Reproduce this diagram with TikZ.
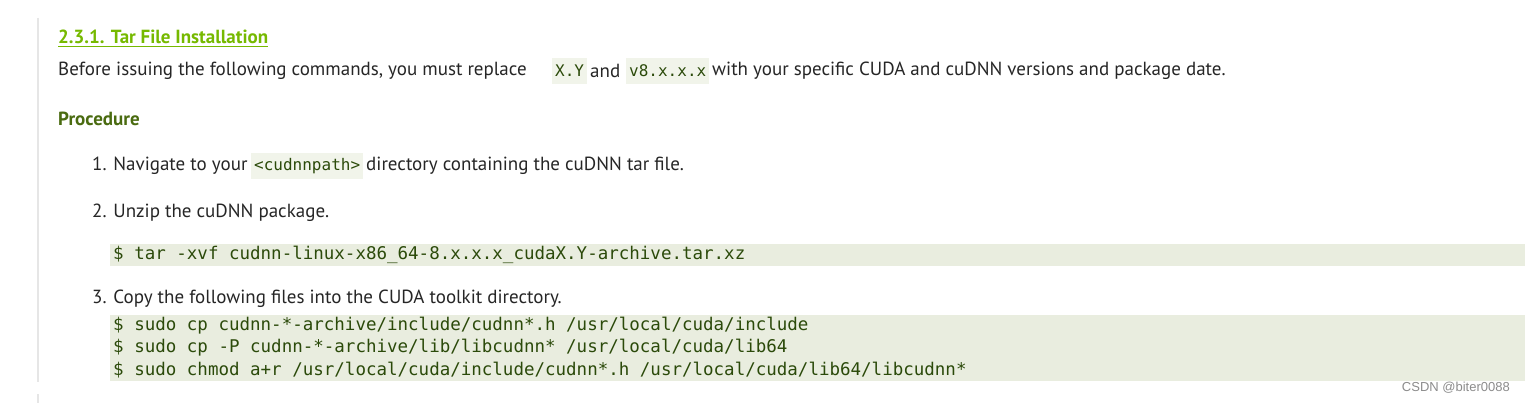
\documentclass[tikz,border=0pt]{standalone}
\usepackage{fontspec}
\usetikzlibrary{calc}
\setmainfont{PT Sans}
\setmonofont{DejaVu Sans Mono}
\newfontfamily\wmfont{Liberation Sans}
\definecolor{nvgreen}{HTML}{76B900}
\definecolor{dgreen}{HTML}{4A6B10}
\definecolor{codefg}{HTML}{2B4A0A}
\definecolor{codebg}{HTML}{E9EDDF}
\definecolor{chipbg}{HTML}{F1F4EA}
\definecolor{rule}{HTML}{E6E6E6}
\begin{document}
\begin{tikzpicture}[x=1pt,y=-1pt,
  body/.style={anchor=west,inner sep=0pt,font=\fontsize{19}{22}\selectfont,text=black!85},
  code/.style={anchor=west,inner sep=0pt,font=\ttfamily\fontsize{17.5}{20}\selectfont,text=codefg},
  chip/.style={anchor=west,fill=chipbg,inner xsep=3pt,inner ysep=0pt,minimum height=26pt,font=\ttfamily\fontsize{16}{20}\selectfont,text=codefg}]
\useasboundingbox (0,0) rectangle (1525,403);
\fill[white] (0,0) rectangle (1525,403);
\draw[rule,line width=1.2pt] (38,18) -- (38,382);
\draw[rule,line width=1.2pt] (38,394) -- (38,403);
\node[anchor=west,inner sep=0pt,font=\bfseries\fontsize{19}{22}\selectfont,text=nvgreen] (h) at (58,37) {2.3.1. Tar File Installation};
\draw[nvgreen,line width=1pt] ($(h.south west)+(0,2)$) -- ($(h.south east)+(0,2)$);
\node[body] (p1) at (58,71) {Before issuing the following commands, you must replace};
\node[chip] (c1) at (552,71) {X.Y};
\node[body] (p2) at (590,71) {and};
\node[chip] (c2) at (626,71) {v8.x.x.x};
\node[body] (p3) at (712,71) {with your specific CUDA and cuDNN versions and package date.};
\node[anchor=west,inner sep=0pt,font=\bfseries\fontsize{19}{22}\selectfont,text=dgreen] (pr) at (58,119) {Procedure};
\node[body] (s1) at (92,166) {1. Navigate to your};
\node[chip] (c3) at (251,166) {<cudnnpath>};
\node[body] (s1b) at (366,166) {directory containing the cuDNN tar file.};
\node[body] (s2) at (92,213) {2. Unzip the cuDNN package.};
\fill[codebg] (110,244) rectangle (1525,266);
\node[code] (k1) at (113,255) {\$ tar -xvf cudnn-linux-x86\_64-8.x.x.x\_cudaX.Y-archive.tar.xz};
\node[body] (s3) at (92,299) {3. Copy the following files into the CUDA toolkit directory.};
\fill[codebg] (110,315) rectangle (1525,381);
\node[code] (k2) at (113,326) {\$ sudo cp cudnn-*-archive/include/cudnn*.h /usr/local/cuda/include};
\node[code] (k3) at (113,348) {\$ sudo cp -P cudnn-*-archive/lib/libcudnn* /usr/local/cuda/lib64};
\node[code] (k4) at (113,370) {\$ sudo chmod a+r /usr/local/cuda/include/cudnn*.h /usr/local/cuda/lib64/libcudnn*};
\node[anchor=east,inner sep=0pt,font=\wmfont\fontsize{13}{15}\selectfont,text=black!45] (wm) at (1510,388) {CSDN @biter0088};
\end{tikzpicture}
\end{document}
